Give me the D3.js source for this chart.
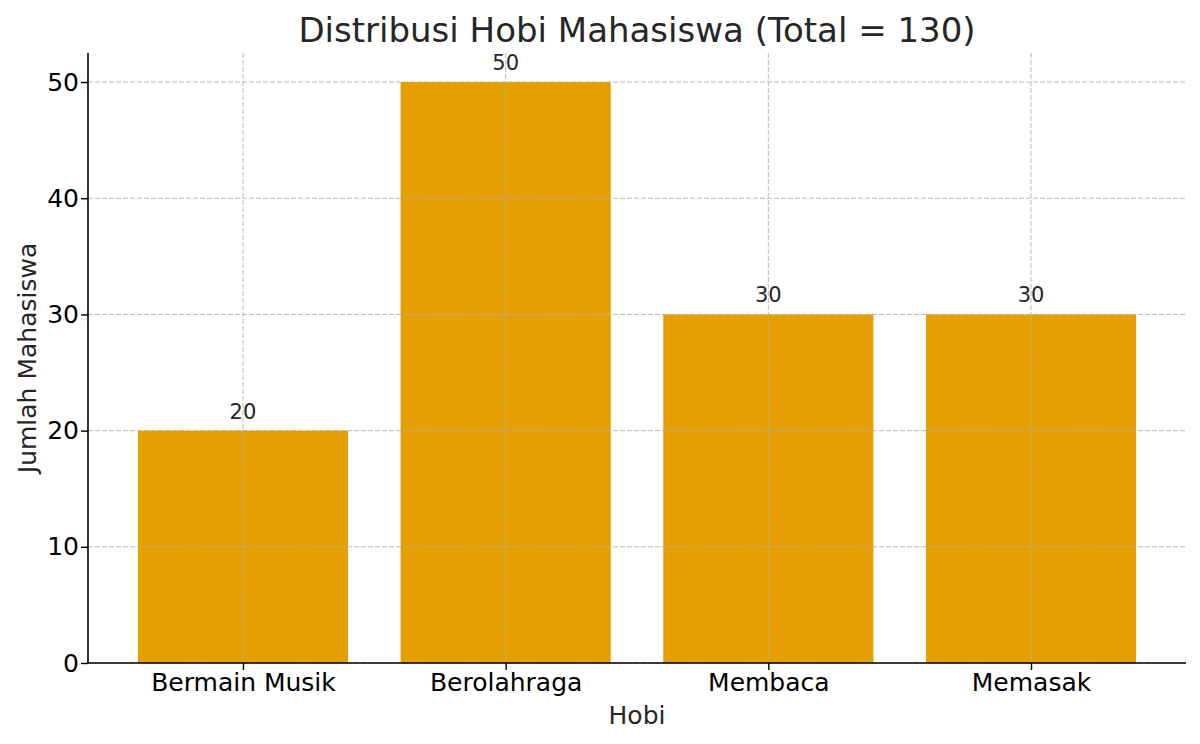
<!DOCTYPE html>
<html>
<head>
<meta charset="utf-8">
<script src="https://cdn.jsdelivr.net/npm/d3@7"></script>
<style>
  body { margin: 0; background: #fff; }
  svg text { font-family: 'DejaVu Sans', sans-serif; fill: #262626; }
</style>
</head>
<body>
<svg id="canvas" width="1200" height="744"></svg>
<script>
var categories = ['Bermain Musik', 'Berolahraga', 'Membaca', 'Memasak'];
var counts = [20, 50, 30, 30];
var yTicks = [0, 10, 20, 30, 40, 50];

var margin = {top: 53, right: 14, bottom: 81, left: 88};
var width = 1200 - margin.left - margin.right;
var height = 744 - margin.top - margin.bottom;

var svg = d3.select('#canvas');
var chart = svg.append('g')
  .attr('transform', 'translate(' + margin.left + ',' + margin.top + ')');

// matplotlib-like x range: positions 0..n-1, bar width 0.8, 5% margins
var n = categories.length;
var lo = -0.4, hi = n - 1 + 0.4;
var pad = (hi - lo) * 0.05;
var x = d3.scaleLinear().domain([lo - pad, hi + pad]).range([0, width]);
var y = d3.scaleLinear().domain([0, 52.5]).range([height, 0]);

var data = categories.map(function(c, i) {
  return {label: c, value: counts[i], pos: i};
});

// bars
chart.selectAll('.bar')
  .data(data)
  .enter()
  .append('rect')
  .attr('class', 'bar')
  .attr('x', function(d) { return x(d.pos - 0.4); })
  .attr('width', function(d) { return x(d.pos + 0.4) - x(d.pos - 0.4); })
  .attr('y', function(d) { return y(d.value); })
  .attr('height', function(d) { return height - y(d.value); })
  .style('fill', '#E69F00');

// grid on top of bars
var grid = chart.append('g').attr('class', 'grid');
grid.selectAll('.hgrid')
  .data(yTicks)
  .enter()
  .append('line')
  .attr('x1', 0)
  .attr('x2', width)
  .attr('y1', function(d) { return y(d); })
  .attr('y2', function(d) { return y(d); });
grid.selectAll('.vgrid')
  .data(data)
  .enter()
  .append('line')
  .attr('x1', function(d) { return x(d.pos); })
  .attr('x2', function(d) { return x(d.pos); })
  .attr('y1', 0)
  .attr('y2', height);
grid.selectAll('line')
  .style('stroke', '#b0b0b0')
  .style('stroke-width', 1)
  .style('stroke-dasharray', '5,2')
  .style('opacity', 0.85);

// value labels
chart.selectAll('.val')
  .data(data)
  .enter()
  .append('text')
  .attr('class', 'val')
  .attr('x', function(d) { return x(d.pos); })
  .attr('y', function(d) { return y(d.value) - 12; })
  .attr('text-anchor', 'middle')
  .style('font-size', '21px')
  .text(function(d) { return d.value; });

// axes
var yAxis = chart.append('g')
  .call(d3.axisLeft(y).tickValues(yTicks).tickSize(7).tickPadding(2));
var xAxis = chart.append('g')
  .attr('transform', 'translate(0,' + height + ')')
  .call(d3.axisBottom(x)
    .tickValues(data.map(function(d) { return d.pos; }))
    .tickFormat(function(d) { return categories[d]; })
    .tickSize(7).tickPadding(3));

[xAxis, yAxis].forEach(function(a) {
  a.select('.domain').style('stroke', '#000').style('stroke-width', 1.6)
    .attr('d', a === xAxis ? 'M0,0H' + width : 'M0,0V' + height);
  a.selectAll('.tick line').style('stroke', '#000').style('stroke-width', 1.4);
  a.selectAll('text').style('font-size', '25px').style('fill', '#000')
    .style('font-family', "'DejaVu Sans', sans-serif");
});

// title and axis labels
svg.append('text')
  .attr('x', margin.left + width / 2)
  .attr('y', 42)
  .attr('text-anchor', 'middle')
  .style('font-size', '34px')
  .text('Distribusi Hobi Mahasiswa (Total = 130)');

svg.append('text')
  .attr('x', margin.left + width / 2)
  .attr('y', 724)
  .attr('text-anchor', 'middle')
  .style('font-size', '25px')
  .text('Hobi');

svg.append('text')
  .attr('transform', 'translate(36,' + (margin.top + height / 2) + ') rotate(-90)')
  .attr('text-anchor', 'middle')
  .style('font-size', '25px')
  .text('Jumlah Mahasiswa');
</script>
</body>
</html>
